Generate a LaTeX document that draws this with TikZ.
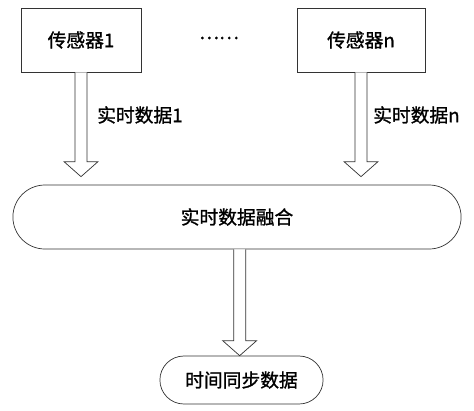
\documentclass[tikz,border=0pt]{standalone}
\usepackage{fontspec}
\setmainfont{Noto Sans CJK SC}[FakeBold=1.2]
\usetikzlibrary{calc}
\usetikzlibrary{shapes.misc}
\tikzstyle{sensor}=[rectangle,draw=black!80,fill=white,line width=0.6pt,minimum height=1.92cm,font=\fontsize{16}{19}\selectfont]
\tikzstyle{roundbox}=[rounded rectangle,draw=black!80,fill=white,line width=0.6pt,font=\fontsize{16}{19}\selectfont]
\tikzstyle{flowlabel}=[anchor=west,inner sep=0pt,font=\fontsize{16}{19}\selectfont]
\tikzstyle{hollow}=[draw=black!80,fill=white,line width=0.6pt,line join=miter]
\newcommand{\hollowarrow}[2]{%
	\draw [style=hollow] let \p1=(#1), \p2=(#2) in
		(\x1-0.18cm,\y1) -- (\x1-0.18cm,\y2+0.45cm) -- (\x1-0.51cm,\y2+0.45cm) -- (\x1,\y2)
		-- (\x1+0.51cm,\y2+0.45cm) -- (\x1+0.18cm,\y2+0.45cm) -- (\x1+0.18cm,\y1);}

\begin{document}
\begin{tikzpicture}[x=0.03cm, y=-0.03cm]
	\useasboundingbox (0,0) rectangle (474,410);
	\node [style=sensor, minimum width=3.6cm] (s1) at (81, 40) {传感器1};
	\node [style=sensor, minimum width=3.84cm] (sn) at (361, 40) {传感器n};
	\node [font=\fontsize{16}{19}\selectfont] (dots) at (219, 38) {……};
	\node [style=roundbox, minimum width=13.68cm, minimum height=1.92cm] (fuse) at (237, 217) {实时数据融合};
	\node [style=roundbox, minimum width=5.13cm, minimum height=1.44cm] (sync) at (241.5, 380) {时间同步数据};
	\coordinate (t1) at ([yshift=0.24cm]s1.south |- fuse.north);
	\coordinate (tn) at ([yshift=0.24cm]sn.south |- fuse.north);
	\coordinate (fo) at ([xshift=0.08cm]fuse.south);
	\coordinate (to) at (fo |- sync.north);
	\hollowarrow{s1.south}{t1}
	\hollowarrow{sn.south}{tn}
	\hollowarrow{fo}{to}
	\node [style=flowlabel] (lab1) at (97, 115) {实时数据1};
	\node [style=flowlabel] (labn) at (373, 115) {实时数据n};
\end{tikzpicture}
\end{document}
